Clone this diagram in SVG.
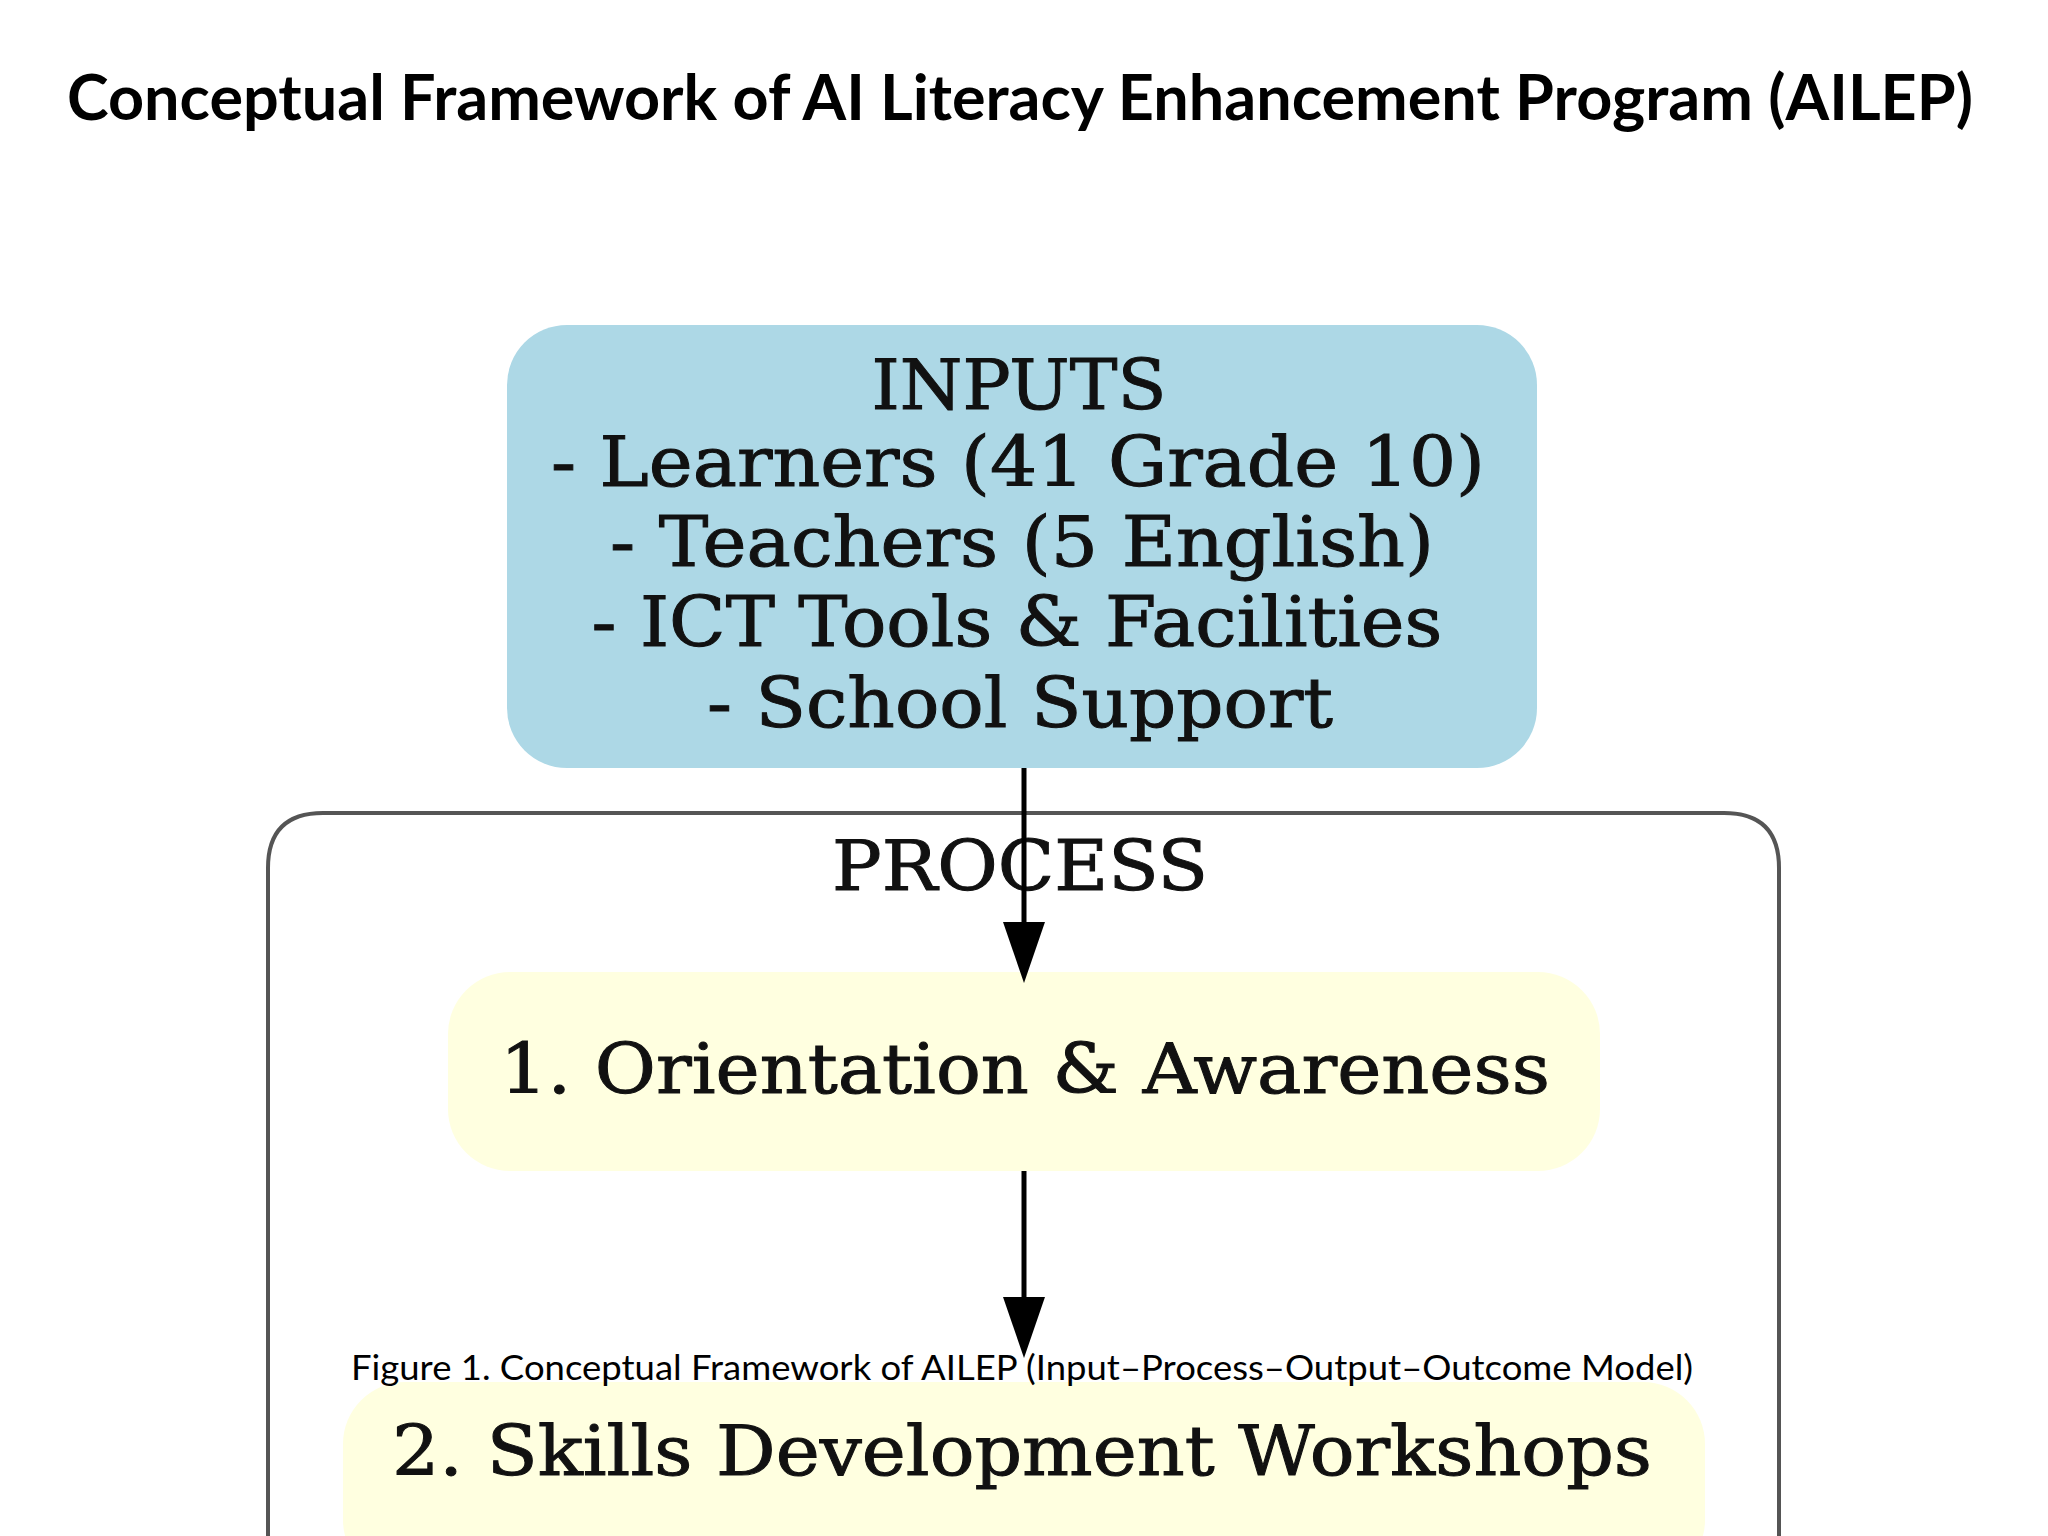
<svg xmlns="http://www.w3.org/2000/svg" width="2048" height="1536" viewBox="0 0 2048 1536">
  <style>
    .title { font-family: Lato, "Liberation Sans", sans-serif; font-weight: bold; font-size: 63px; fill: #000; }
    .caption { font-family: Lato, "Liberation Sans", sans-serif; font-size: 35px; fill: #000; }
    .lbl { font-family: "DejaVu Serif", "Liberation Serif", serif; font-size: 70px; fill: #111; stroke: #111; stroke-width: 1; }
    .inputs { fill: #ADD8E6; }
    .step { fill: #FFFFE0; }
    .cluster { fill: none; stroke: #555; stroke-width: 4; }
    .edge { stroke: #000; stroke-width: 5; fill: none; }
  </style>
  <defs>
    <marker id="arrow" viewBox="0 0 61 42" refX="0" refY="21" markerWidth="61" markerHeight="42" markerUnits="userSpaceOnUse" orient="auto">
      <path d="M0,0 L61,21 L0,42 z" fill="#000"/>
    </marker>
  </defs>
  <rect width="2048" height="1536" fill="#fff"/>

  <text class="title" x="1020" y="120" text-anchor="middle" textLength="1906" lengthAdjust="spacingAndGlyphs">Conceptual Framework of AI Literacy Enhancement Program (AILEP)</text>

  <g id="cluster_process">
    <path class="cluster" d="M268,1545 L268,868 Q268,813 323,813 L1724,813 Q1779,813 1779,868 L1779,1545"/>
    <text class="lbl" x="1020" y="890" text-anchor="middle" textLength="376" lengthAdjust="spacingAndGlyphs">PROCESS</text>
  </g>

  <g id="node_inputs">
    <rect class="inputs" x="507" y="325" width="1030" height="443" rx="60" ry="60"/>
    <text class="lbl" x="1019" y="409" text-anchor="middle" textLength="295" lengthAdjust="spacingAndGlyphs">INPUTS</text>
    <text class="lbl" x="1018" y="486" text-anchor="middle" textLength="934" lengthAdjust="spacingAndGlyphs">- Learners (41 Grade 10)</text>
    <text class="lbl" x="1022" y="566" text-anchor="middle" textLength="824" lengthAdjust="spacingAndGlyphs">- Teachers (5 English)</text>
    <text class="lbl" x="1017" y="646" text-anchor="middle" textLength="851" lengthAdjust="spacingAndGlyphs">- ICT Tools &amp; Facilities</text>
    <text class="lbl" x="1020" y="727" text-anchor="middle" textLength="626" lengthAdjust="spacingAndGlyphs">- School Support</text>
  </g>

  <g id="node_step1">
    <rect class="step" x="448" y="972" width="1152" height="199" rx="62" ry="62"/>
    <text class="lbl" x="1025" y="1093" text-anchor="middle" textLength="1050" lengthAdjust="spacingAndGlyphs">1. Orientation &amp; Awareness</text>
  </g>

  <g id="node_step2">
    <rect class="step" x="343" y="1382" width="1362" height="200" rx="62" ry="62"/>
    <text class="lbl" x="1022" y="1475" text-anchor="middle" textLength="1260" lengthAdjust="spacingAndGlyphs">2. Skills Development Workshops</text>
  </g>

  <g id="connectors">
    <line class="edge" x1="1024" y1="768" x2="1024" y2="922" marker-end="url(#arrow)"/>
    <line class="edge" x1="1024" y1="1171" x2="1024" y2="1297" marker-end="url(#arrow)"/>
  </g>

  <text class="caption" x="1022" y="1380" text-anchor="middle" textLength="1342" lengthAdjust="spacingAndGlyphs">Figure 1. Conceptual Framework of AILEP (Input–Process–Output–Outcome Model)</text>
</svg>
